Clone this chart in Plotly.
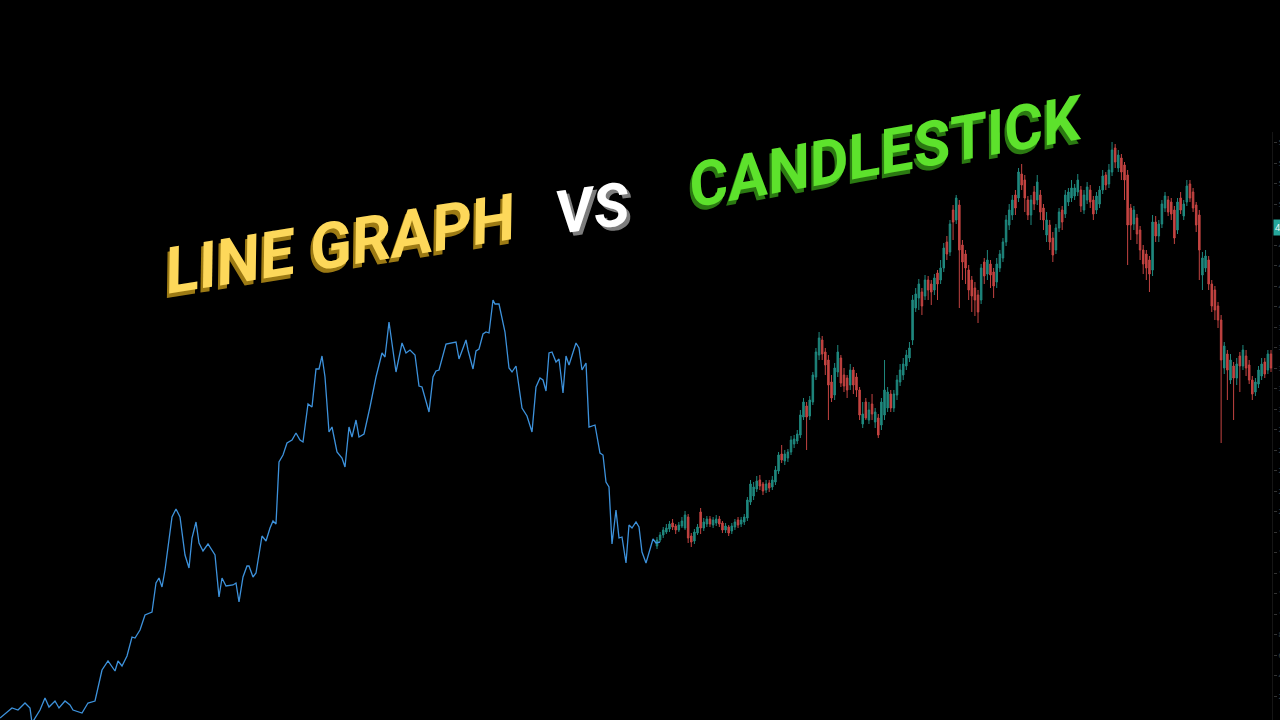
import plotly.graph_objects as go

# ---- line section (time, price) ----
line_t = [0, 12, 18, 25, 30, 32, 40, 45, 49, 55, 59, 65, 70, 73, 82, 88, 95, 102, 108, 115,
          118, 122, 127, 132, 135, 140, 145, 152, 156, 159, 162, 165, 172, 176, 180, 185, 189, 192, 196, 199,
          203, 208, 215, 219, 222, 226, 233, 236, 239, 243, 247, 249, 253, 256, 262, 266, 270, 273, 276, 279,
          283, 287, 292, 296, 300, 303, 308, 312, 316, 319, 322, 325, 329, 332, 337, 342, 345, 349, 352, 356,
          359, 364, 370, 376, 382, 385, 389, 393, 396, 402, 406, 410, 415, 419, 422, 429, 433, 436, 439, 446,
          454, 456, 459, 466, 468, 473, 476, 479, 483, 486, 489, 493, 495, 499, 505, 509, 512, 516, 522, 527,
          532, 536, 540, 543, 546, 549, 552, 556, 559, 563, 566, 569, 576, 579, 582, 586, 589, 595, 600, 603,
          606, 609, 612, 616, 619, 622, 626, 629, 632, 636, 639, 642, 646, 653, 656, 660]
line_price = [2, 12, 10, 17, 12, -3, 10, 22, 13, 19, 12, 19, 15, 10, 7, 17, 19, 50, 59, 49,
              59, 54, 64, 83, 82, 90, 105, 108, 137, 142, 133, 150, 203, 211, 203, 165, 152, 182, 198, 177,
              169, 176, 165, 123, 142, 134, 135, 137, 118, 143, 154, 154, 143, 147, 184, 179, 192, 199, 196, 258,
              265, 277, 280, 287, 280, 278, 316, 313, 351, 351, 364, 343, 288, 293, 268, 262, 253, 293, 283, 300,
              283, 286, 313, 343, 367, 363, 398, 368, 348, 377, 367, 370, 365, 334, 333, 308, 343, 349, 350, 376,
              377, 378, 361, 380, 370, 351, 369, 371, 386, 388, 387, 420, 416, 416, 388, 352, 348, 354, 312, 304,
              288, 333, 342, 340, 329, 367, 368, 358, 361, 327, 364, 355, 377, 372, 350, 357, 293, 295, 267, 265,
              238, 233, 176, 210, 182, 183, 157, 195, 192, 198, 193, 168, 157, 181, 177, 178]

# ---- candlestick section (OHLC) ----
c_open = [174, 180, 185, 188, 191, 197, 194, 190, 194, 192, 203, 184, 179, 187, 208, 192, 196, 201, 195, 197,
          201, 197, 190, 193, 189, 193, 200, 196, 198, 202, 218, 224, 231, 240, 236, 230, 237, 233, 238, 249,
          266, 259, 262, 268, 276, 279, 285, 303, 314, 304, 318, 343, 365, 380, 368, 360, 338, 325, 348, 362,
          345, 342, 335, 350, 343, 330, 296, 318, 300, 316, 298, 302, 295, 305, 312, 326, 312, 325, 338, 345,
          354, 362, 380, 412, 422, 428, 424, 440, 436, 430, 447, 440, 452, 478, 468, 510, 500, 515, 475, 466,
          450, 440, 432, 425, 420, 458, 446, 456, 448, 438, 452, 462, 478, 495, 505, 525, 522, 546, 540, 520,
          505, 528, 520, 525, 512, 485, 495, 482, 470, 492, 510, 506, 518, 522, 524, 528, 530, 510, 520, 530,
          520, 510, 516, 530, 545, 536, 548, 572, 552, 562, 555, 545, 512, 496, 502, 490, 470, 466, 460, 450,
          498, 484, 496, 512, 520, 518, 510, 490, 522, 504, 518, 536, 528, 515, 505, 445, 452, 460, 436, 430,
          414, 400, 352, 366, 340, 354, 342, 364, 354, 364, 355, 340, 328, 336, 344, 358, 350, 366]
c_high = [183, 188, 193, 196, 199, 201, 196, 198, 203, 209, 206, 187, 191, 196, 212, 202, 204, 204, 203, 205,
          204, 199, 197, 195, 197, 201, 203, 203, 206, 223, 240, 238, 244, 245, 238, 240, 240, 244, 254, 268,
          275, 270, 271, 284, 285, 290, 310, 322, 318, 324, 348, 372, 388, 384, 372, 365, 345, 357, 375, 365,
          352, 345, 356, 353, 347, 333, 318, 322, 318, 326, 312, 306, 322, 360, 333, 330, 330, 345, 356, 362,
          370, 378, 425, 432, 441, 432, 445, 444, 440, 446, 450, 460, 477, 484, 500, 515, 525, 520, 480, 470,
          455, 444, 438, 430, 456, 462, 470, 460, 452, 462, 470, 482, 505, 516, 525, 530, 552, 556, 545, 524,
          525, 534, 545, 530, 516, 508, 500, 488, 496, 512, 514, 530, 532, 540, 536, 546, 534, 530, 538, 535,
          524, 528, 534, 550, 548, 556, 578, 576, 570, 566, 558, 550, 516, 514, 506, 494, 475, 470, 464, 505,
          504, 500, 520, 528, 524, 522, 514, 522, 528, 520, 540, 540, 532, 518, 510, 468, 470, 464, 440, 434,
          418, 405, 378, 370, 366, 358, 362, 368, 375, 370, 360, 344, 342, 354, 362, 362, 370, 370]
c_low = [171, 178, 182, 186, 188, 190, 186, 188, 192, 190, 177, 173, 176, 185, 186, 189, 193, 193, 192, 194,
         193, 187, 187, 184, 186, 190, 192, 193, 195, 199, 215, 220, 228, 230, 225, 227, 228, 230, 235, 246,
         257, 255, 258, 265, 272, 276, 282, 300, 270, 300, 315, 340, 360, 360, 345, 300, 318, 320, 343, 333,
         328, 322, 330, 326, 323, 300, 292, 300, 296, 300, 292, 282, 290, 300, 308, 308, 308, 320, 334, 340,
         350, 358, 375, 408, 410, 405, 420, 420, 415, 425, 420, 436, 448, 460, 464, 480, 496, 412, 440, 436,
         420, 408, 404, 397, 416, 436, 440, 432, 422, 432, 448, 458, 474, 490, 500, 505, 518, 530, 508, 500,
         495, 510, 515, 500, 490, 478, 470, 458, 466, 488, 490, 502, 514, 518, 520, 524, 508, 506, 516, 512,
         500, 506, 512, 526, 530, 532, 544, 552, 548, 540, 520, 455, 480, 490, 476, 460, 446, 440, 428, 444,
         478, 478, 492, 508, 504, 500, 476, 486, 506, 500, 514, 518, 508, 488, 440, 430, 448, 430, 408, 400,
         392, 277, 346, 320, 336, 300, 335, 328, 350, 344, 336, 320, 324, 332, 340, 342, 346, 348]
c_close = [180, 185, 190, 192, 196, 193, 190, 195, 199, 205, 182, 178, 188, 193, 192, 198, 201, 196, 200, 201,
           196, 190, 194, 187, 194, 198, 195, 200, 203, 220, 236, 233, 239, 234, 229, 236, 232, 240, 250, 265,
           260, 266, 268, 280, 281, 286, 305, 318, 303, 320, 345, 368, 382, 366, 355, 335, 322, 352, 368, 337,
           334, 330, 350, 335, 330, 305, 306, 302, 310, 306, 308, 285, 318, 330, 328, 312, 326, 340, 350, 356,
           365, 372, 420, 426, 436, 414, 440, 430, 428, 442, 436, 452, 472, 466, 496, 498, 522, 470, 458, 452,
           430, 424, 420, 408, 452, 444, 460, 445, 434, 456, 466, 478, 500, 510, 520, 512, 548, 535, 522, 505,
           520, 516, 538, 508, 500, 500, 478, 465, 492, 508, 498, 525, 528, 532, 532, 540, 514, 525, 533, 518,
           506, 524, 530, 544, 535, 550, 570, 558, 565, 548, 540, 495, 495, 510, 486, 470, 456, 452, 446, 498,
           484, 496, 516, 524, 508, 506, 482, 518, 510, 516, 534, 522, 512, 495, 470, 462, 464, 436, 414, 410,
           400, 360, 374, 350, 360, 342, 356, 354, 370, 352, 340, 326, 338, 350, 356, 346, 366, 352]

# right-hand price scale marks (the slot at ~495 is taken by the price tag)
scale_vals = [578, 557, 537, 516, 475, 455, 434, 414, 393, 373, 352, 332, 311, 291, 270, 250, 229,
              209, 188, 168, 147, 127, 106, 86, 65, 45, 24]
tag_price = 493

n = len(c_close)
c_t = [657 + i * (1271 - 657) / (n - 1) for i in range(n)]

fig = go.Figure()
fig.add_trace(go.Scatter(x=line_t, y=line_price, mode="lines",
                         line=dict(color="#3d92dc", width=1.3), hoverinfo="skip"))
fig.add_trace(go.Candlestick(x=c_t, open=c_open, high=c_high, low=c_low, close=c_close,
                             increasing=dict(line=dict(color="#26a69a", width=1), fillcolor="#26a69a"),
                             decreasing=dict(line=dict(color="#ef5350", width=1), fillcolor="#ef5350"),
                             opacity=0.82, whiskerwidth=0, hoverinfo="skip"))

title_font = "Roboto, Liberation Sans, sans-serif"
fig.add_annotation(text="LINE GRAPH", x=0.266, y=0.66, xref="paper", yref="paper",
                   xanchor="center", yanchor="middle", textangle=-9, showarrow=False,
                   font=dict(family=title_font, size=64, color="#fdd85a", weight="bold",
                             style="italic", shadow="-3px 4px 0px #9c7a14"))
fig.add_annotation(text="VS", x=0.4625, y=0.711, xref="paper", yref="paper",
                   xanchor="center", yanchor="middle", textangle=-8, showarrow=False,
                   font=dict(family=title_font, size=60, color="#ffffff", weight="bold",
                             style="italic", shadow="3px 4px 0px #7d7d7d"))
fig.add_annotation(text="CANDLESTICK", x=0.693, y=0.789, xref="paper", yref="paper",
                   xanchor="center", yanchor="middle", textangle=-10, showarrow=False,
                   font=dict(family=title_font, size=62, color="#5de22c", weight="bold",
                             style="italic", shadow="-3px 4px 0px #2b7a12"))
fig.add_annotation(text=str(tag_price), x=1273, y=tag_price, xref="x", yref="y",
                   xanchor="left", yanchor="middle", showarrow=False, bgcolor="#26a69a",
                   font=dict(size=9, color="#ffffff"), borderpad=1)

fig.add_shape(type="line", x0=1273, x1=1273, y0=0, y1=588, xref="x", yref="y",
              line=dict(color="#2a2a2a", width=1))

fig.update_layout(
    width=1280, height=720,
    margin=dict(l=0, r=0, t=0, b=0, autoexpand=False),
    paper_bgcolor="#000000", plot_bgcolor="#000000",
    showlegend=False, hovermode=False,
    xaxis=dict(range=[0, 1273], domain=[0, 1273 / 1280], showgrid=False, zeroline=False,
               showticklabels=False, rangeslider=dict(visible=False), fixedrange=True,
               automargin=False),
    yaxis=dict(range=[0, 720], showgrid=False, zeroline=False, side="right", automargin=False,
               tickvals=scale_vals, ticks="outside", ticklen=3, tickcolor="#333333",
               showticklabels=True, tickfont=dict(size=8, color="#4a4a4a"), fixedrange=True),
)

page_fix = ("document.body.style.margin='0';document.body.style.overflow='hidden';"
            "document.body.style.background='#000';")
fig.write_html("out.html", config={"displayModeBar": False}, post_script=page_fix)
